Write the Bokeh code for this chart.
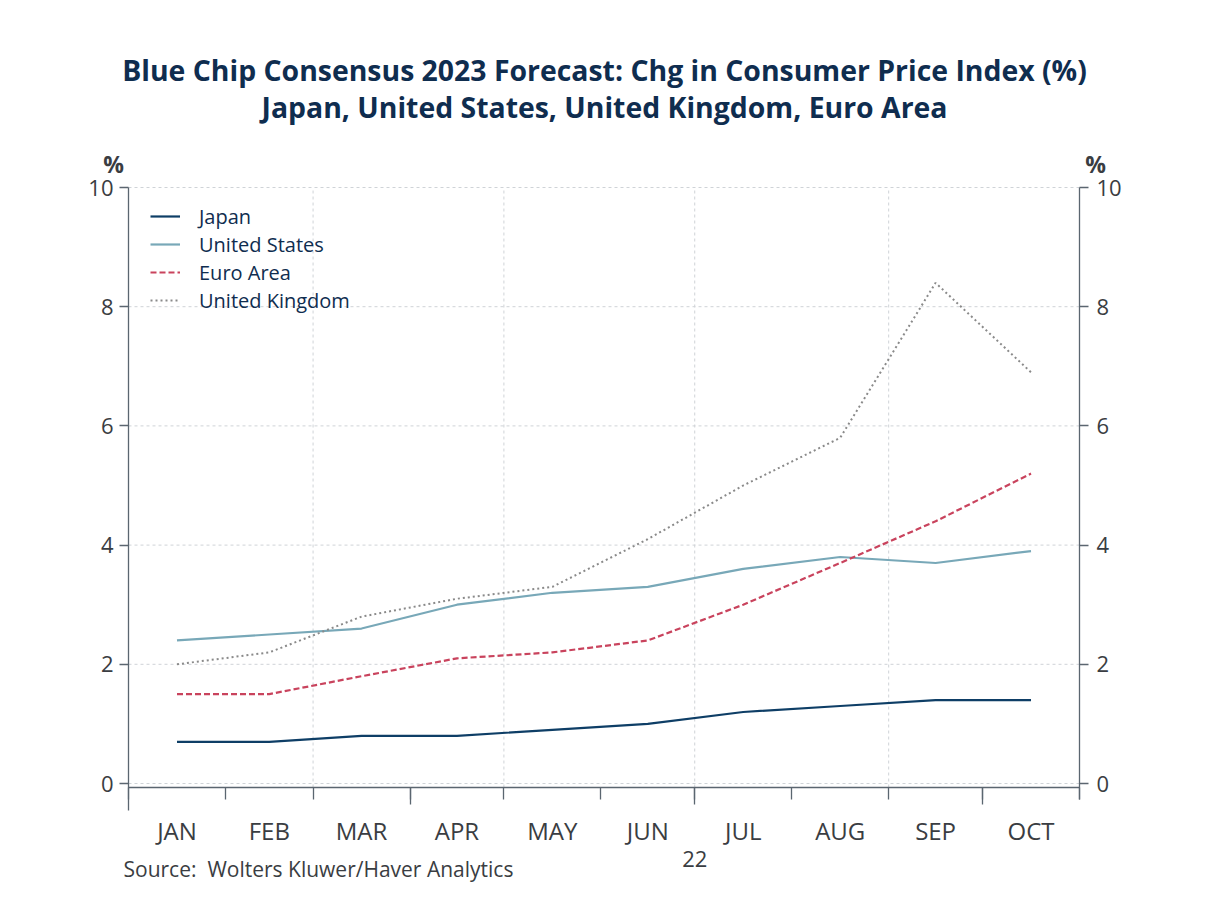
import datetime as dt
from bokeh.plotting import figure
from bokeh.models import (Range1d, LinearAxis, FixedTicker, Label, Legend, LegendItem,
                          CustomJSTickFormatter)
from bokeh.embed import file_html
from bokeh.resources import INLINE

# ---------------- data ----------------
months = ["JAN", "FEB", "MAR", "APR", "MAY", "JUN", "JUL", "AUG", "SEP", "OCT"]
year_label = "22"
japan = [0.7, 0.7, 0.8, 0.8, 0.9, 1.0, 1.2, 1.3, 1.4, 1.4]
united_states = [2.4, 2.5, 2.6, 3.0, 3.2, 3.3, 3.6, 3.8, 3.7, 3.9]
euro_area = [1.5, 1.5, 1.8, 2.1, 2.2, 2.4, 3.0, 3.7, 4.4, 5.2]
united_kingdom = [2.0, 2.2, 2.8, 3.1, 3.3, 4.1, 5.0, 5.8, 8.4, 6.9]
y_ticks = [0, 2, 4, 6, 8, 10]

title1 = "Blue Chip Consensus 2023 Forecast: Chg in Consumer Price Index (%)"
title2 = "Japan, United States, United Kingdom, Euro Area"
source = "Source:\u00a0 Wolters Kluwer/Haver Analytics"

# ---------------- time positions (days since 2022-01-01) ----------------
start = dt.date(2022, 1, 1)
bounds = [(dt.date(2022, m, 1) - start).days for m in range(1, 12)]  # Jan 1 .. Nov 1
mids = [(bounds[i] + bounds[i + 1]) / 2 for i in range(len(months))]
quarter_bounds = [bounds[i] for i in (3, 6, 9)]
grid_bounds = [bounds[i] for i in (2, 4, 6, 8)]

# ---------------- layout geometry (pixels) ----------------
W, H = 1208, 906
AX_L, AX_R, AX_TOP, AX_BOT = 128, 1079, 187, 787
Y0_PX, PX_PER_UNIT = 783, 59.6
x_lo, x_hi = bounds[0], bounds[-1]


def dx(px):
    return x_lo + (px - AX_L) / (AX_R - AX_L) * (x_hi - x_lo)


def dy(py):
    return (Y0_PX - py) / PX_PER_UNIT


FONT = "Open Sans"
TXT = "#3a3d42"
NAVY = "#0f2d4f"
AX = "#5b6670"
GRID = "#cfd3d7"

p = figure(width=W, height=H, output_backend="svg", toolbar_location=None,
           x_range=Range1d(dx(0), dx(W)), y_range=Range1d(dy(H), dy(0)),
           min_border=0, x_axis_location=None, y_axis_location=None)
p.outline_line_color = None
p.background_fill_color = "white"
p.border_fill_color = "white"
p.xgrid.visible = False
p.ygrid.visible = False

# ---- grids (dashed) ----
p.segment(x0=[x_lo] * len(y_ticks), x1=[x_hi] * len(y_ticks), y0=y_ticks, y1=y_ticks,
          line_color=GRID, line_width=1, line_dash="3 3")
p.segment(x0=grid_bounds, x1=grid_bounds, y0=[dy(AX_BOT)] * len(grid_bounds),
          y1=[max(y_ticks)] * len(grid_bounds),
          line_color=GRID, line_width=1, line_dash="3 3")

# ---- bottom axis: month labels + monthly ticks ----
xaxis = LinearAxis(ticker=FixedTicker(ticks=mids, minor_ticks=bounds),
                   fixed_location=dy(AX_BOT), bounds=(x_lo, x_hi),
                   formatter=CustomJSTickFormatter(args=dict(mids=mids, labels=months),
                                                   code="""
        let best = 0;
        for (let i = 0; i < mids.length; i++) {
            if (Math.abs(mids[i] - tick) < Math.abs(mids[best] - tick)) best = i;
        }
        return labels[best];
    """))
xaxis.axis_line_color = AX
xaxis.axis_line_width = 1.3
xaxis.major_tick_line_color = None
xaxis.major_tick_out = 0
xaxis.major_tick_in = 0
xaxis.minor_tick_line_color = AX
xaxis.minor_tick_line_width = 1.3
xaxis.minor_tick_out = 12
xaxis.minor_tick_in = 0
xaxis.major_label_standoff = 14
xaxis.major_label_text_font = FONT
xaxis.major_label_text_font_size = "24px"
xaxis.major_label_text_color = TXT
p.add_layout(xaxis, "below")

# ---- bottom axis: longer quarter ticks ----
qaxis = LinearAxis(ticker=FixedTicker(ticks=quarter_bounds, minor_ticks=[]),
                   fixed_location=dy(AX_BOT), bounds=(x_lo, x_hi),
                   formatter=CustomJSTickFormatter(code="return ''"))
qaxis.axis_line_color = None
qaxis.major_tick_line_color = AX
qaxis.major_tick_line_width = 1.3
qaxis.major_tick_out = 17
qaxis.major_tick_in = 0
qaxis.minor_tick_line_color = None
qaxis.major_label_text_font_size = "1px"
p.add_layout(qaxis, "below")

# ---- y axes ----
for side, loc, lo_px, standoff in (("left", AX_L, 810, 6), ("right", AX_R, 799, 8)):
    ax = LinearAxis(ticker=FixedTicker(ticks=y_ticks, minor_ticks=[]),
                    fixed_location=dx(loc), bounds=(dy(lo_px), max(y_ticks)))
    ax.axis_line_color = AX
    ax.axis_line_width = 1.3
    ax.major_tick_line_color = AX
    ax.major_tick_line_width = 1.3
    ax.major_tick_out = 9
    ax.major_tick_in = 0
    ax.minor_tick_line_color = None
    ax.major_label_standoff = standoff
    ax.major_label_text_font = FONT
    ax.major_label_text_font_size = "22px"
    ax.major_label_text_color = TXT
    p.add_layout(ax, side)

# ---- series ----
r_jp = p.line(mids, japan, line_color="#0e3e66", line_width=2.2)
r_us = p.line(mids, united_states, line_color="#78a8b8", line_width=2.2)
r_eu = p.line(mids, euro_area, line_color="#c9435d", line_width=2.2, line_dash="6 3")
r_uk = p.line(mids, united_kingdom, line_color="#8a8a8a", line_width=2.0, line_dash="2 3")

legend = Legend(items=[LegendItem(label="Japan", renderers=[r_jp]),
                       LegendItem(label="United States", renderers=[r_us]),
                       LegendItem(label="Euro Area", renderers=[r_eu]),
                       LegendItem(label="United Kingdom", renderers=[r_uk])])
legend.margin = 0
legend.padding = 0
legend.spacing = 0
legend.label_height = 28
legend.glyph_height = 28
legend.glyph_width = 30
legend.label_standoff = 19
legend.label_text_font = FONT
legend.label_text_font_size = "20px"
legend.label_text_color = NAVY
legend.border_line_color = None
legend.background_fill_alpha = 0
legend.location = (150, H - (202 + 4 * 28))
p.add_layout(legend)

# ---- titles and texts ----
def add_text(px, py, text, size, bold=False, color=TXT, align="center"):
    p.add_layout(Label(x=dx(px), y=dy(py), text=text, text_align=align,
                       text_baseline="middle", text_font=FONT,
                       text_font_style="bold" if bold else "normal",
                       text_font_size=size, text_color=color))


add_text(W / 2, 69, title1, "28.4px", bold=True, color=NAVY)
add_text(W / 2, 106, title2, "28.4px", bold=True, color=NAVY)
add_text(113, 163, "%", "23px", bold=True)
add_text(1095, 163, "%", "23px", bold=True)
p.add_layout(Label(x=bounds[6], y=dy(858), text=year_label, text_align="center",
                   text_baseline="middle", text_font=FONT,
                   text_font_size="22px", text_color=TXT))
add_text(123, 868, source, "21px", align="left")

open("out.html", "w").write(file_html(p, INLINE))
